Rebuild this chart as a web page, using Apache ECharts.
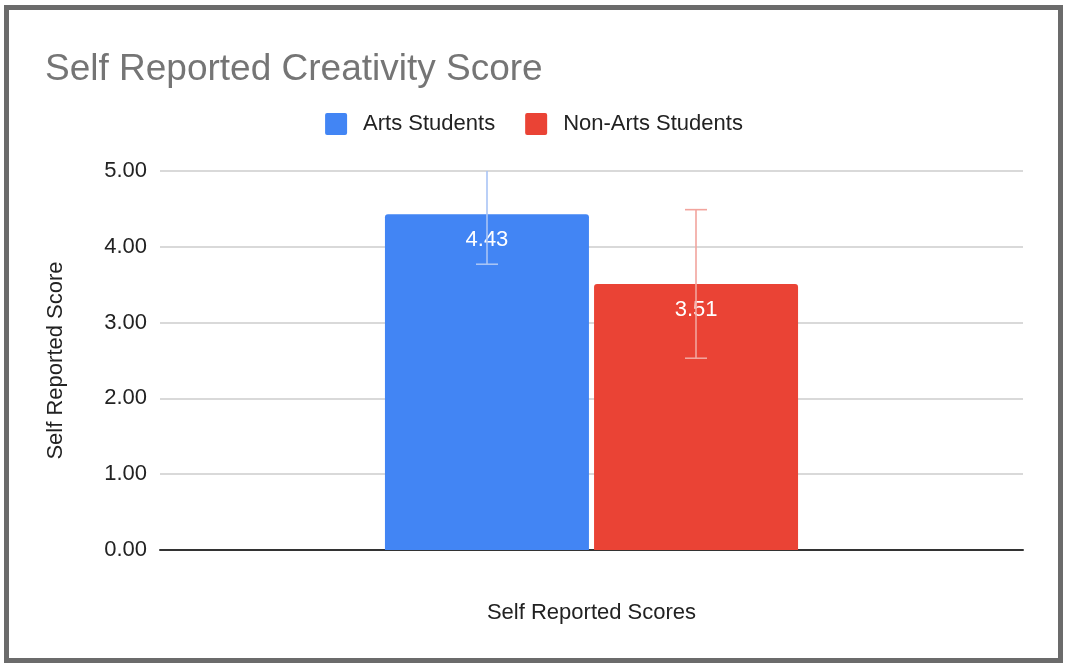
<!DOCTYPE html>
<html>
<head>
<meta charset="utf-8">
<script src="https://cdn.jsdelivr.net/npm/echarts@6/dist/echarts.min.js"></script>
<style>
  html, body { margin: 0; padding: 0; background: #fff; }
  #frame { position: absolute; left: 4px; top: 5px; width: 1049px; height: 648px; border: 5px solid #6b6b6b; }
  #chart { position: absolute; left: 0; top: 0; width: 1068px; height: 668px; }
</style>
</head>
<body>
<div id="frame"></div>
<div id="chart"></div>
<script>
// data
var categories = ['Self Reported Scores'];
var seriesNames = ['Arts Students', 'Non-Arts Students'];
var means = [4.43, 3.51];
var errors = [0.66, 0.98];
var yTicks = [0, 1, 2, 3, 4, 5];

var barColors = ['#4285f4', '#ea4335'];
var errColors = ['#a9c4f5', '#f2a49d'];
var barWidth = 204;
var offsets = [-104.5, 104.5];
var fontName = 'Liberation Sans';

var myChart = echarts.init(document.getElementById('chart'));

var series = [];
seriesNames.forEach(function (name, i) {
  series.push({
    name: name,
    type: 'bar',
    data: [means[i]],
    barWidth: barWidth,
    barGap: '2.5%',
    itemStyle: { color: barColors[i], borderRadius: [3, 3, 0, 0] },
    label: {
      show: true,
      position: 'insideTop',
      distance: 15,
      color: '#fff',
      fontSize: 22,
      fontFamily: fontName,
      formatter: function (p) { return p.value.toFixed(2); }
    },
    z: 2
  });
});

// error bars drawn over the bars
seriesNames.forEach(function (name, i) {
  series.push({
    type: 'custom',
    name: name + ' err',
    data: [[0, means[i] - errors[i], means[i] + errors[i]]],
    clip: true,
    z: 5,
    silent: true,
    renderItem: function (params, api) {
      var lo = api.coord([api.value(0), api.value(1)]);
      var hi = api.coord([api.value(0), api.value(2)]);
      var x = lo[0] + offsets[i];
      var cap = 11;
      var style = { stroke: errColors[i], lineWidth: 1.6 };
      return {
        type: 'group',
        children: [
          { type: 'line', shape: { x1: x, y1: lo[1], x2: x, y2: hi[1] }, style: style },
          { type: 'line', shape: { x1: x - cap, y1: lo[1], x2: x + cap, y2: lo[1] }, style: style },
          { type: 'line', shape: { x1: x - cap, y1: hi[1], x2: x + cap, y2: hi[1] }, style: style }
        ]
      };
    }
  });
});

var option = {
  animation: false,
  textStyle: { fontFamily: fontName },
  title: {
    text: 'Self Reported Creativity Score',
    left: 40,
    top: 46,
    textStyle: { color: '#757575', fontSize: 37, fontWeight: 'normal', fontFamily: fontName }
  },
  legend: {
    data: seriesNames,
    top: 108,
    left: 'center',
    itemWidth: 22,
    itemHeight: 22,
    itemGap: 30,
    icon: 'path://M2,0 H20 Q22,0 22,2 V20 Q22,22 20,22 H2 Q0,22 0,20 V2 Q0,0 2,0 Z',
    textStyle: { fontSize: 22, color: '#222', fontFamily: fontName, padding: [0, 0, 0, 11] }
  },
  grid: { left: 160, right: 45, top: 171, bottom: 118 },
  xAxis: {
    type: 'category',
    data: categories,
    name: categories[0],
    nameLocation: 'middle',
    nameGap: 52,
    nameTextStyle: { fontSize: 22, color: '#222', fontFamily: fontName },
    axisLabel: { show: false },
    axisTick: { show: false },
    axisLine: { lineStyle: { color: '#333', width: 2 } }
  },
  yAxis: {
    type: 'value',
    min: yTicks[0],
    max: yTicks[yTicks.length - 1],
    interval: 1,
    name: 'Self Reported Score',
    nameLocation: 'middle',
    nameGap: 93,
    nameTextStyle: { fontSize: 22, color: '#222', fontFamily: fontName },
    axisLabel: {
      fontSize: 22,
      color: '#222',
      margin: 13,
      fontFamily: fontName,
      formatter: function (v) { return v.toFixed(2); }
    },
    axisLine: { show: false },
    axisTick: { show: false },
    splitLine: { lineStyle: { color: '#cccccc', width: 1.5 } }
  },
  series: series
};
myChart.setOption(option);
</script>
</body>
</html>
